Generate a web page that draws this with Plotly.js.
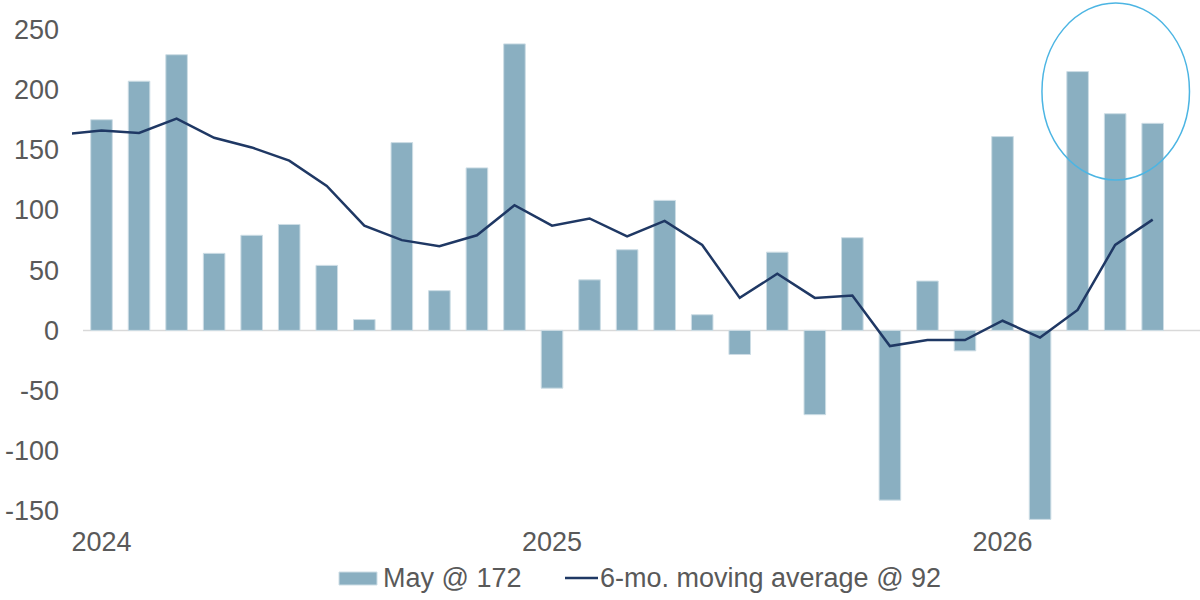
<!DOCTYPE html>
<html>
<head>
<meta charset="utf-8">
<script src="https://cdn.plot.ly/plotly-3.0.1.min.js"></script>
<style>
  html, body { margin: 0; padding: 0; background: #fff; }
  #chart { width: 1200px; height: 600px; }
</style>
</head>
<body>
<div id="chart"></div>
<script>
// Monthly change (thousands) with its 6-month moving average
const maMonths = [
  '2023-12',
  '2024-01','2024-02','2024-03','2024-04','2024-05','2024-06',
  '2024-07','2024-08','2024-09','2024-10','2024-11','2024-12',
  '2025-01','2025-02','2025-03','2025-04','2025-05','2025-06',
  '2025-07','2025-08','2025-09','2025-10','2025-11','2025-12',
  '2026-01','2026-02','2026-03','2026-04','2026-05'
];
const barMonths = maMonths.slice(1);
const monthlyChange = [
  175, 207, 229, 64, 79, 88, 54, 9, 156, 33, 135, 238,
  -48, 42, 67, 108, 13, -20, 65, -70, 77, -141, 41, -17,
  161, -157, 215, 180, 172
];
const movingAvg = [
  163,
  166, 164, 176, 160, 152, 141, 120, 87, 75, 70, 79, 104,
  87, 93, 78, 91, 71, 27, 47, 27, 29, -13, -8, -8,
  8, -6, 17, 71, 92
];
const tickMonths = ['2024-01', '2025-01', '2026-01'];
const tickLabels = ['2024', '2025', '2026'];
const yTickVals = [-150, -100, -50, 0, 50, 100, 150, 200, 250];
const yTickLabels = ['-150', '-100', '-50', '0', '50', '100', '150', '200', '250'];
const barName = 'May @ 172';
const lineName = '6-mo. moving average @ 92';

// highlighted stretch: the last three months
const highlightFrom = '2026-03';
const highlightTo = '2026-05';

const W = 1200, H = 600;
const margin = { l: 72, r: 0, t: 15, b: 77 };
const xRange = [0.214, 30.26];
const yRange = [-160, 262];
const barColor = '#8aafc1';
const lineColor = '#1f3864';
const textColor = '#595959';
const fontFamily = '"Liberation Sans", Arial, sans-serif';

// helpers: category index / value / pixel to paper fraction
const plotW = W - margin.l - margin.r;
const plotH = H - margin.t - margin.b;
const xIdx = m => maMonths.indexOf(m);
const xPaper = v => (v - xRange[0]) / (xRange[1] - xRange[0]);
const yPaper = v => (v - yRange[0]) / (yRange[1] - yRange[0]);
const pxX = px => (px - margin.l) / plotW;
const pxY = py => (H - margin.b - py) / plotH;

const traces = [
  {
    type: 'bar',
    name: barName,
    x: barMonths,
    y: monthlyChange,
    width: 0.575,
    marker: { color: barColor, line: { color: '#cddde5', width: 1 } },
    hoverinfo: 'x+y',
    showlegend: false
  },
  {
    type: 'scatter',
    mode: 'lines',
    name: lineName,
    x: maMonths,
    y: movingAvg,
    line: { color: lineColor, width: 2.5 },
    hoverinfo: 'x+y',
    showlegend: false
  }
];

const ringLeft = xIdx(highlightFrom) - 0.95;
const ringRight = xIdx(highlightTo) + 0.98;
const ringTop = 272;
const ringBottom = 125;

// legend row beneath the axis
const legendY = 578;
const legendFont = { family: fontFamily, size: 27, color: textColor };

const layout = {
  width: W,
  height: H,
  margin: margin,
  paper_bgcolor: '#ffffff',
  plot_bgcolor: '#ffffff',
  font: { family: fontFamily, size: 27, color: textColor },
  showlegend: false,
  xaxis: {
    type: 'category',
    categoryorder: 'array',
    categoryarray: maMonths,
    range: xRange,
    tickmode: 'array',
    tickvals: tickMonths,
    ticktext: tickLabels,
    ticks: '',
    showgrid: false,
    showline: false,
    zeroline: false,
    tickfont: { family: fontFamily, size: 27, color: textColor }
  },
  yaxis: {
    range: yRange,
    tickmode: 'array',
    tickvals: yTickVals,
    ticktext: yTickLabels,
    ticks: '',
    showgrid: false,
    showline: false,
    zeroline: false,
    ticklabelstandoff: 12,
    tickfont: { family: fontFamily, size: 27, color: textColor }
  },
  shapes: [
    {
      type: 'line', layer: 'below',
      xref: 'x', yref: 'y',
      x0: 0.507, x1: xRange[1], y0: 0, y1: 0,
      line: { color: '#d9d9d9', width: 1.5 }
    },
    {
      type: 'circle', layer: 'above',
      xref: 'paper', yref: 'paper',
      x0: xPaper(ringLeft), x1: xPaper(ringRight),
      y0: yPaper(ringBottom), y1: yPaper(ringTop),
      line: { color: '#4cb5e3', width: 1.5 }
    },
    {
      type: 'rect', xref: 'paper', yref: 'paper',
      x0: pxX(339), x1: pxX(377), y0: pxY(legendY + 7), y1: pxY(legendY - 6),
      fillcolor: barColor, line: { color: '#cddde5', width: 1 }
    },
    {
      type: 'line', xref: 'paper', yref: 'paper',
      x0: pxX(565), x1: pxX(598), y0: pxY(legendY), y1: pxY(legendY),
      line: { color: lineColor, width: 2.5 }
    }
  ],
  annotations: [
    {
      xref: 'paper', yref: 'paper', x: pxX(381), y: pxY(legendY),
      xanchor: 'left', yanchor: 'middle', showarrow: false,
      text: barName, font: legendFont
    },
    {
      xref: 'paper', yref: 'paper', x: pxX(598), y: pxY(legendY),
      xanchor: 'left', yanchor: 'middle', showarrow: false,
      text: lineName, font: legendFont
    }
  ],
  bargap: 0.425
};

Plotly.newPlot('chart', traces, layout, { displayModeBar: false, staticPlot: true });
</script>
</body>
</html>
